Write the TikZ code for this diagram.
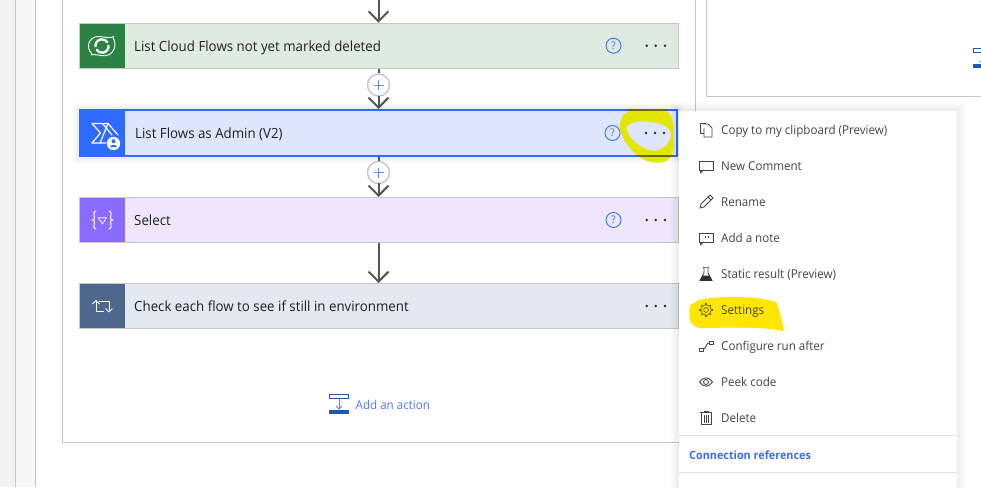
\documentclass[tikz,border=0pt]{standalone}
\usepackage{fontspec}
\setmainfont[FakeStretch=0.95]{Open Sans}
\usetikzlibrary{arrows.meta}
\definecolor{framegray}{HTML}{C6C6C6}
\definecolor{arrowgray}{HTML}{555555}
\definecolor{bluemain}{HTML}{2F6BFF}
\definecolor{linkblue}{HTML}{3A6FE8}
\definecolor{deepblue}{HTML}{1F59AD}
\definecolor{menutext}{HTML}{444444}
\definecolor{hiyellow}{HTML}{FFE600}
\definecolor{hiolive}{HTML}{E2E600}
\tikzset{
  flow/.style={draw=arrowgray,line width=2pt,-{Straight Barb[length=10pt,width=20pt,line width=2pt]}},
  flowplain/.style={draw=arrowgray,line width=2pt},
  card/.style={rectangle,draw=framegray,line width=1pt,minimum width=599pt,minimum height=45pt,inner sep=0pt},
  iconbox/.style={rectangle,minimum width=45pt,minimum height=44pt,inner sep=0pt},
  cardtext/.style={anchor=mid west,yshift=-2.4pt,inner sep=0pt,font=\fontsize{14}{16}\selectfont,text=black!88},
  menuitem/.style={anchor=mid west,yshift=-2.2pt,inner sep=0pt,font=\fontsize{12.2}{15}\selectfont,text=menutext},
  helpmark/.style={circle,draw=linkblue,line width=.9pt,minimum size=15pt,inner sep=0pt,text=linkblue,font=\fontsize{10.5}{12}\selectfont},
  plusbtn/.style={circle,draw=framegray,fill=white,line width=1.4pt,minimum size=22pt,inner sep=0pt},
  ico/.style={draw=menutext,line width=.85pt,line join=round},
  wico/.style={draw=white,line width=1.2pt,line cap=round,line join=round},
  morebtn/.style={fill=black!85}
}
\begin{document}
\begin{tikzpicture}[x=1pt,y=-1pt]
\useasboundingbox (0,0) rectangle (981,487);
\fill[white] (0,0) rectangle (981,487);
% side panes
\fill[black!5] (0,0) rectangle (15.5,487);
\fill[black!3] (15.5,0) rectangle (35.5,487);
\draw[framegray,line width=.9pt] (15.5,0) -- (15.5,487);
\draw[framegray,line width=.9pt] (35.5,0) -- (35.5,487);
% frames
\draw[framegray,line width=.9pt] (62.3,0) -- (62.3,442.3) -- (690,442.3);
\draw[framegray,line width=.9pt] (695.3,0) -- (695.3,115);
\draw[framegray,line width=.9pt] (706.3,0) -- (706.3,96.3) -- (981,96.3);
% top right partial icon
\draw[deepblue,line width=.9pt] (981.5,48.5) -- (973.5,48.5) -- (973.5,52.5) -- (981.5,52.5);
\fill[deepblue] (973,64) rectangle (981,68);
\fill[deepblue!60] (979,60.5) rectangle (981,61.5);

% named anchors & cards
\coordinate (topin) at (378.5,-1);
\foreach \i in {1,...,6}{
  \fill[black,opacity=.012] ({79-\i},{109-\i}) rectangle ({678+\i},{157+\i});
}
\node[card,fill={rgb,255:red,223;green,235;blue,225}] (listcloud) at (378.5,45.7) {};
\node[rectangle,minimum width=597pt,minimum height=46pt,inner sep=0pt,draw=bluemain,line width=2pt,fill={rgb,255:red,222;green,230;blue,253}] (listadmin) at (378.5,133) {};
\node[card,fill={rgb,255:red,237;green,231;blue,254}] (selectcard) at (378.5,220) {};
\node[card,fill={rgb,255:red,228;green,232;blue,240}] (checkcard) at (378.5,306) {};

\node[plusbtn] (plusa) at (378.5,85) {};
\node[plusbtn] (plusb) at (378.5,172.5) {};
\foreach \n in {plusa,plusb}{
  \draw[linkblue!80,line width=.9pt] ([xshift=-5pt]\n.center) -- ([xshift=5pt]\n.center);
  \draw[linkblue!80,line width=.9pt] ([yshift=-5pt]\n.center) -- ([yshift=5pt]\n.center);
}
% connectors
\draw[flow] (topin) -- (listcloud.north);
\draw[flowplain] (listcloud.south) -- (plusa.north);
\draw[flow] ([yshift=1pt]plusa.south) -- (listadmin.north);
\draw[flowplain] (listadmin.south) -- (plusb.north);
\draw[flow] ([yshift=1pt]plusb.south) -- (selectcard.north);
\draw[flow] (selectcard.south) -- (checkcard.north);

% icon boxes
\node[iconbox,fill={rgb,255:red,44;green,130;blue,66}] (iconcloud) at (102,45.7) {};
\node[iconbox,fill=bluemain,minimum width=46pt,minimum height=48pt] (iconadmin) at (102,133) {};
\node[iconbox,fill={rgb,255:red,139;green,107;blue,255}] (iconselect) at (102,220) {};
\node[iconbox,fill={rgb,255:red,78;green,104;blue,140}] (iconcheck) at (102,306) {};

% dataverse icon
\draw[wico,line width=.9pt] (92,54) .. controls (85,47) and (89,37) .. (98,36.5) .. controls (104,36.5) and (110,39) .. (114,36.5);
\draw[wico,line width=.9pt] (113,37.5) .. controls (118,46) and (113,55) .. (105,55.8) .. controls (100,56) and (95,53.5) .. (91,55);
\draw[white,line width=2.3pt] (95.5,47) arc[start angle=170,end angle=330,radius=6.6];
\draw[white,line width=2.3pt] (108.5,45) arc[start angle=-10,end angle=150,radius=6.6];
% flow icon
\draw[wico] (108,123.5) -- (92,123.5) -- (100.5,133) -- (92,143) -- (106,143);
\draw[wico] (108,123.5) -- (118,135);
\draw[wico] (108,123.5) -- (100,143);
\draw[wico] (102.5,123.5) -- (112,135);
\fill[white] (113.5,143.5) circle[radius=6.7];
\fill[bluemain] (113.5,141.2) circle[radius=2];
\fill[bluemain] (109.8,147.2) .. controls (110,144.2) and (117,144.2) .. (117.2,147.2) -- cycle;
% select icon
\draw[wico,line width=1pt] (96,211) .. controls (92.5,211) and (94.5,217) .. (94.5,218) .. controls (94.5,219.5) and (93,220) .. (92,220) .. controls (93,220) and (94.5,220.5) .. (94.5,222) .. controls (94.5,223) and (92.5,229) .. (96,229);
\draw[wico,line width=1pt] (109,211) .. controls (112.5,211) and (110.5,217) .. (110.5,218) .. controls (110.5,219.5) and (112,220) .. (113,220) .. controls (112,220) and (110.5,220.5) .. (110.5,222) .. controls (110.5,223) and (112.5,229) .. (109,229);
\draw[wico,line width=.7pt] (98.3,217.7) -- (106.5,217.7) -- (102.4,224) -- cycle;
% loop icon
\draw[wico,line cap=butt,line width=1pt] (104,311.5) -- (96,311.5) -- (96,301);
\draw[wico,line cap=butt,line width=1pt] (92.5,304) -- (96,300.5) -- (99.5,304);
\draw[wico,line cap=butt,line width=1pt] (99,301) -- (109,301) -- (109,311.5);
\draw[wico,line cap=butt,line width=1pt] (105.5,308.5) -- (109,312) -- (112.5,308.5);

% card texts
\node[cardtext] (tcloud) at (134,46) {List Cloud Flows not yet marked deleted};
\node[cardtext] (tadmin) at (135,133) {List Flows as Admin (V2)};
\node[cardtext] (tselect) at (134,220) {Select};
\node[cardtext] (tcheck) at (134,306.3) {Check each flow to see if still in environment};

% help
\node[helpmark] (helpa) at (613.5,45.7) {?};
\node[helpmark] (helpb) at (612.5,133) {?};
\node[helpmark] (helpc) at (613.5,220) {?};
% more dots
\foreach \y/\a in {45.7/646.7,220/646.7,306/646.7}{
  \fill[morebtn] (\a,\y) circle[radius=1.35];
  \fill[morebtn] (\a+9,\y) circle[radius=1.35];
  \fill[morebtn] (\a+18.3,\y) circle[radius=1.35];
}

% add an action
\draw[deepblue,line width=.9pt] (329.5,394.5) rectangle (348.5,398.5);
\draw[deepblue!70,line width=.8pt] (339,398.5) -- (339,409);
\draw[deepblue!70,line width=.8pt] (336,406) -- (339,409) -- (342,406);
\fill[deepblue] (329,410) rectangle (349,414);
\node[anchor=mid west,yshift=-2.2pt,inner sep=0pt,font=\fontsize{12.2}{15}\selectfont,text={rgb,255:red,84;green,120;blue,240}] (addaction) at (355.5,405) {Add an action};

% menu shadow and body
\foreach \i in {1,...,9}{
  \fill[black,opacity=.007] ({679-\i},{111-\i}) rectangle ({957+\i},490);
}
\fill[white] (679,111) rectangle (957,490);

% highlights
\fill[hiyellow] (698,300) .. controls (725,295) and (760,296) .. (776.5,302.5) .. controls (780,312) and (783,322) .. (783.5,331) .. controls (760,326) and (720,328) .. (700,328) .. controls (690,326) and (689,322) .. (689.5,307) .. controls (690,303) and (695,304) .. (698,300) -- cycle;
\fill[hiolive,even odd rule]
 (623,115) .. controls (630,108) and (650,108) .. (668,112) .. controls (675,118) and (675,140) .. (673,152) .. controls (670,162) and (660,166) .. (645,160) .. controls (630,153) and (620,135) .. (620,128) .. controls (620,122) and (621,118) .. (623,115) -- cycle
 (626,127) .. controls (630,122) and (640,120) .. (650,122) .. controls (660,123) and (668,125) .. (671,133) .. controls (671,142) and (665,149) .. (655,151) .. controls (640,150) and (628,138) .. (626,127) -- cycle;
\draw[black!55!hiolive,line width=1.6pt] (627,110) -- (668,110);
\draw[black!55!hiolive,line width=1.6pt] (637,156) -- (673,156);
\fill[morebtn] (646,133) circle[radius=1.35];
\fill[morebtn] (655,133) circle[radius=1.35];
\fill[morebtn] (664,133) circle[radius=1.35];

% menu entries
\node[menuitem] (m1) at (721,130) {Copy to my clipboard (Preview)};
\node[menuitem] (m2) at (721,166) {New Comment};
\node[menuitem] (m3) at (721,202) {Rename};
\node[menuitem] (m4) at (721,238) {Add a note};
\node[menuitem] (m5) at (721,274) {Static result (Preview)};
\node[menuitem] (m6) at (721,310) {Settings};
\node[menuitem] (m7) at (721,346) {Configure run after};
\node[menuitem] (m8) at (721,382) {Peek code};
\node[menuitem] (m9) at (721,418) {Delete};
\draw[black!10,line width=.9pt] (679,435.3) -- (957,435.3);
\node[anchor=mid west,yshift=-2.2pt,inner sep=0pt,font=\fontsize{11.4}{15}\selectfont\bfseries,text=linkblue] (connrefs) at (689,455) {Connection references};
\draw[black!10,line width=.9pt] (679,472.3) -- (957,472.3);

% menu icons
% copy
\draw[ico] (703,124) -- (708,124) -- (712,128) -- (712,137) -- (704,137) -- (704,128) ;
\draw[ico] (704,133) -- (700,133) -- (700,123) -- (706,123);
% comment
\draw[ico] (699.5,161) rectangle (713,170);
\draw[ico] (700.5,170) -- (700.5,173) -- (703.5,170);
% rename pencil
\draw[ico] (700,208) -- (701,204) -- (710,195) -- (713,198) -- (704,207) -- cycle;
\draw[ico] (708,197) -- (711,200);
% note
\draw[ico] (699.5,233) rectangle (713,242);
\draw[ico] (700.5,242) -- (700.5,245) -- (703.5,242);
\fill[menutext] (704.5,236) rectangle (705.5,238);
\fill[menutext] (707.5,236) rectangle (708.5,238);
% flask
\draw[ico] (703,267.5) -- (709,267.5);
\draw[ico,fill=white] (704,267.5) -- (704,273) -- (700,280.5) -- (712,280.5) -- (708,273) -- (708,267.5);
\fill[menutext!70!black] (702.5,275.5) -- (709.5,275.5) -- (712.3,280.8) -- (699.7,280.8) -- cycle;
% gear
\definecolor{gearcol}{HTML}{6A6420}
\draw[gearcol,line width=.7pt] (706,310) circle[radius=5.3];
\draw[gearcol,line width=.7pt] (706,310) circle[radius=2.4];
\foreach \a in {0,45,...,315}{
  \draw[gearcol,line width=1.2pt] (706,310) ++(\a:5.2) -- ++(\a:1.6);
}
% run after
\draw[ico] (699.5,348) rectangle (703.5,351.5);
\draw[ico] (709,341) rectangle (713,344.5);
\draw[ico] (703.5,349) .. controls (706,349) and (706,343) .. (709,343);
% eye
\draw[ico] (699.5,382) .. controls (703,376.5) and (709,376.5) .. (712.5,382) .. controls (709,387.5) and (703,387.5) .. (699.5,382) -- cycle;
\draw[ico] (706,382) circle[radius=2.5];
% delete
\draw[ico] (700,412.5) -- (712,412.5);
\draw[ico] (704,412.5) -- (704,411) -- (708,411) -- (708,412.5);
\draw[ico] (701,412.5) rectangle (711,424.5);
\draw[ico,line width=.7pt] (704,415) -- (704,422.5) (706,415) -- (706,422.5) (708,415) -- (708,422.5);
\end{tikzpicture}
\end{document}
